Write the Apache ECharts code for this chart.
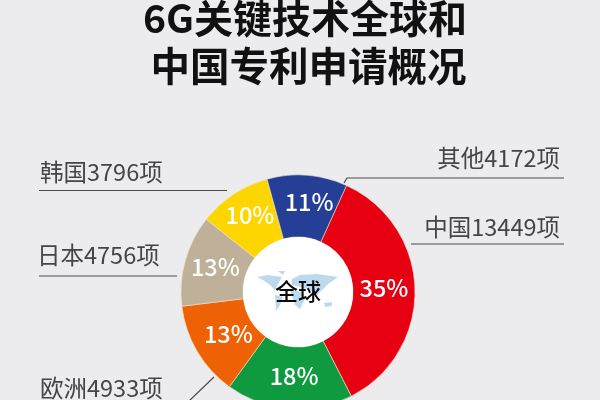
<!DOCTYPE html>
<html><head><meta charset="utf-8">
<style>html,body{margin:0;padding:0;background:#ecebee}#c{width:600px;height:400px}</style>
<script src="https://cdn.jsdelivr.net/npm/echarts@6/dist/echarts.min.js"></script>
</head><body><div id="c"></div>
<script>
const names = ['中国','美国','欧洲','日本','韩国','其他'];
const values = [13449,6600,4933,4756,3796,4172];
const percents = ['35%','18%','13%','13%','10%','11%'];
const colors = ['#e60012','#0f9a40','#ee6205','#bfb199','#fdd600','#243f95'];
const titleLines = ['6G关键技术全球和','中国专利申请概况'];
const centerText = '全球';
const FONT = '"Noto Sans CJK SC"';

function label(i, x, y, right){
  return {type:'text', z:10, style:{text:names[i]+values[i]+'项', x, y, align:right?'right':'left', verticalAlign:'middle',
    font:'400 23.5px '+FONT, fill:'#454545'}};
}
function leader(pts){
  return {type:'polyline', z:10, shape:{points:pts}, style:{stroke:'#4a4a4a', lineWidth:1.2, fill:null}};
}
function land(pts){
  return {type:'polygon', z:6, shape:{points:pts}, style:{fill:'#bcd9ee'}};
}
function nudge(i){
  return [[-3,-2],[3,-5],[7,-3],[3,-1],[1,-3],[4,-1]][i];
}
const chart = echarts.init(document.getElementById('c'), null, {renderer:'canvas'});
chart.setOption({
  backgroundColor:'#ecebee',
  animation:false,
  series:[{
    type:'pie', center:[298,292], radius:[55,117], startAngle:65.5, clockwise:true, silent:true,
    data:names.map((n,i)=>({name:n, value:values[i], itemStyle:{color:colors[i]}, label:{offset:nudge(i)}})),
    label:{show:true, position:'inside', formatter:p=>percents[p.dataIndex], color:'#fff', fontSize:23.5, fontWeight:500, fontFamily:FONT},
    labelLine:{show:false},
    itemStyle:{borderColor:'#f3e3c4', borderWidth:0.6}
  }],
  graphic:[
    {type:'text', z:10, style:{text:titleLines[0], x:305, y:18, align:'center', verticalAlign:'middle', font:'700 39px '+FONT, fill:'#111'}},
    {type:'text', z:10, style:{text:titleLines[1], x:308.5, y:66, align:'center', verticalAlign:'middle', font:'700 39.5px '+FONT, fill:'#111'}},
    label(4,40,172,false), leader([[39,190.5],[227,190.5]]),
    label(3,37,255,false), leader([[39,276],[177,276]]),
    label(2,40,388,false), leader([[214,377],[188,402]]),
    label(5,560,158,true), leader([[344,183],[347,178],[564,178]]),
    label(0,560,227,true), leader([[411,244],[564,244]]),
    {type:'circle', z:5, shape:{cx:298,cy:292,r:55}, style:{fill:'#fff'}},
    land([[257,277],[268,275],[282,277],[278,284],[275,290],[270,285],[263,280]]),
    land([[278,271],[285,271],[283,275]]),
    land([[275,295],[283,297],[280,305],[276,311]]),
    land([[292,279],[300,275],[317,274],[338,277],[328,284],[322,290],[317,295],[310,290],[300,287],[292,285]]),
    land([[290,290],[303,292],[305,299],[300,309],[295,305]]),
    land([[324,303],[332,302],[332,306],[325,307]]),
    {type:'text', z:10, style:{text:centerText, x:298, y:291, align:'center', verticalAlign:'middle', font:'500 23px '+FONT, fill:'#0a0a0a'}}
  ]
});
</script></body></html>
